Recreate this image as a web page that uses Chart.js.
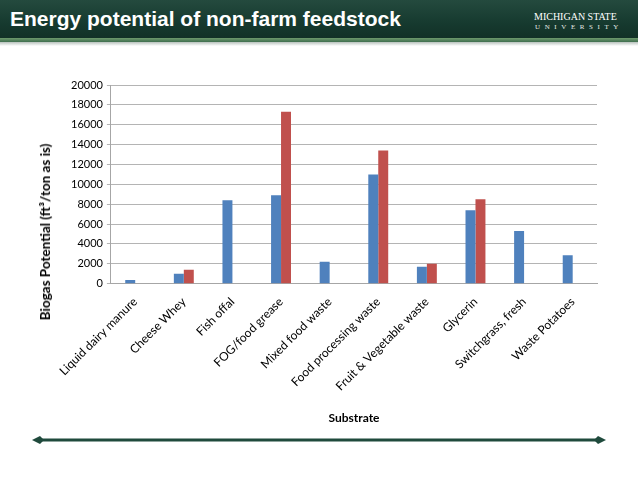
<!DOCTYPE html>
<html>
<head>
<meta charset="utf-8">
<script src="https://cdn.jsdelivr.net/npm/chart.js@4/dist/chart.umd.min.js"></script>
<style>
  html, body { margin: 0; padding: 0; background: #fff; }
  #page { position: relative; width: 638px; height: 478px; overflow: hidden; }
  #bar {
    position: absolute; left: 0; top: 0; width: 638px; height: 38px;
    background: linear-gradient(to bottom, #244a3e 0%, #163a2f 60%, #123127 100%);
  }
  #stripe {
    position: absolute; left: 0; top: 38px; width: 638px; height: 4px;
    background: linear-gradient(to bottom, #6e9a6c, #3f6e4f);
  }
  #shadow {
    position: absolute; left: 0; top: 42px; width: 638px; height: 4px;
    background: linear-gradient(to bottom, #b9c2bd, #ffffff);
  }
  #title {
    position: absolute; left: 10px; top: 7px; color: #fff;
    font: bold 21px "Liberation Sans", Arial, sans-serif;
  }
  #msu1 {
    position: absolute; left: 534px; top: 11px; color: #fff;
    font: 10px "Liberation Serif", serif;
  }
  #msu2 {
    position: absolute; left: 535px; top: 23px; color: #e8eee9;
    font: 7px "Liberation Serif", serif; letter-spacing: 4.6px;
  }
  #ytitle {
    position: absolute; left: 45px; top: 232px; white-space: nowrap;
    transform: translate(-50%, -50%) rotate(-90deg);
    font: bold 13.5px Lato, "Open Sans", sans-serif; color: #000;
  }
  #wrap { position: absolute; left: 0; top: 50px; width: 638px; height: 379px; }
  #arrow { position: absolute; left: 0; top: 430px; }
</style>
</head>
<body>
<div id="page">
  <div id="bar"></div>
  <div id="stripe"></div>
  <div id="shadow"></div>
  <div id="title">Energy potential of non-farm feedstock</div>
  <div id="msu1">MICHIGAN STATE</div>
  <div id="msu2">UNIVERSITY</div>
  <div id="wrap"><canvas id="chart"></canvas></div>
  <div id="ytitle">Biogas Potential (ft³/ton as is)</div>
  <svg id="arrow" width="638" height="20">
    <line x1="40" y1="10" x2="598" y2="10" stroke="#1f4a3c" stroke-width="3"/>
    <polygon points="32,10 40,6 44,10 40,14" fill="#1f4a3c"/>
    <polygon points="606,10 598,6 594,10 598,14" fill="#1f4a3c"/>
  </svg>
</div>
<script>
var categories = ["Liquid dairy manure", "Cheese Whey", "Fish offal", "FOG/food grease",
  "Mixed food waste", "Food processing waste", "Fruit & Vegetable waste", "Glycerin",
  "Switchgrass, fresh", "Waste Potatoes"];
var seriesA = [370, 1000, 8400, 8900, 2200, 11000, 1700, 7400, 5300, 2850];
var seriesB = [null, 1400, null, 17300, null, 13400, 2000, 8500, null, null];
var yTicks = [0, 2000, 4000, 6000, 8000, 10000, 12000, 14000, 16000, 18000, 20000];

var ctx = document.getElementById("chart");

var chartData = {
  labels: categories,
  datasets: [{
    label: "Series 1",
    data: seriesA,
    backgroundColor: "#4f81bd"
  }, {
    label: "Series 2",
    data: seriesB,
    backgroundColor: "#c0504d"
  }]
};

var chartOptions = {
  responsive: true,
  maintainAspectRatio: false,
  animation: false,
  layout: { padding: { left: 67, right: 41, top: 35, bottom: 0 } },
  datasets: { bar: { categoryPercentage: 0.41, barPercentage: 1 } },
  plugins: { legend: { display: false }, tooltip: { enabled: false } },
  scales: {
    x: {
      grid: { display: false },
      border: { color: "#a6a6a6" },
      ticks: {
        color: "#000", minRotation: 45, maxRotation: 45,
        font: { family: "Lato", size: 12 }
      },
      title: {
        display: true, text: "Substrate", color: "#000",
        font: { family: "Lato", size: 12, weight: "bold" }, padding: { top: 14 }
      }
    },
    y: {
      min: 0, max: 20000,
      afterBuildTicks: function(axis) {
        axis.ticks = yTicks.map(function(v) { return { value: v }; });
      },
      grid: { color: "#b4b4b4", tickLength: 4 },
      border: { color: "#a6a6a6" },
      ticks: {
        color: "#000", padding: 4,
        font: { family: "Lato", size: 11 },
        callback: function(v) { return String(v); }
      }
    }
  }
};

var chart = new Chart(ctx, { type: "bar", data: chartData, options: chartOptions });
</script>
</body>
</html>
